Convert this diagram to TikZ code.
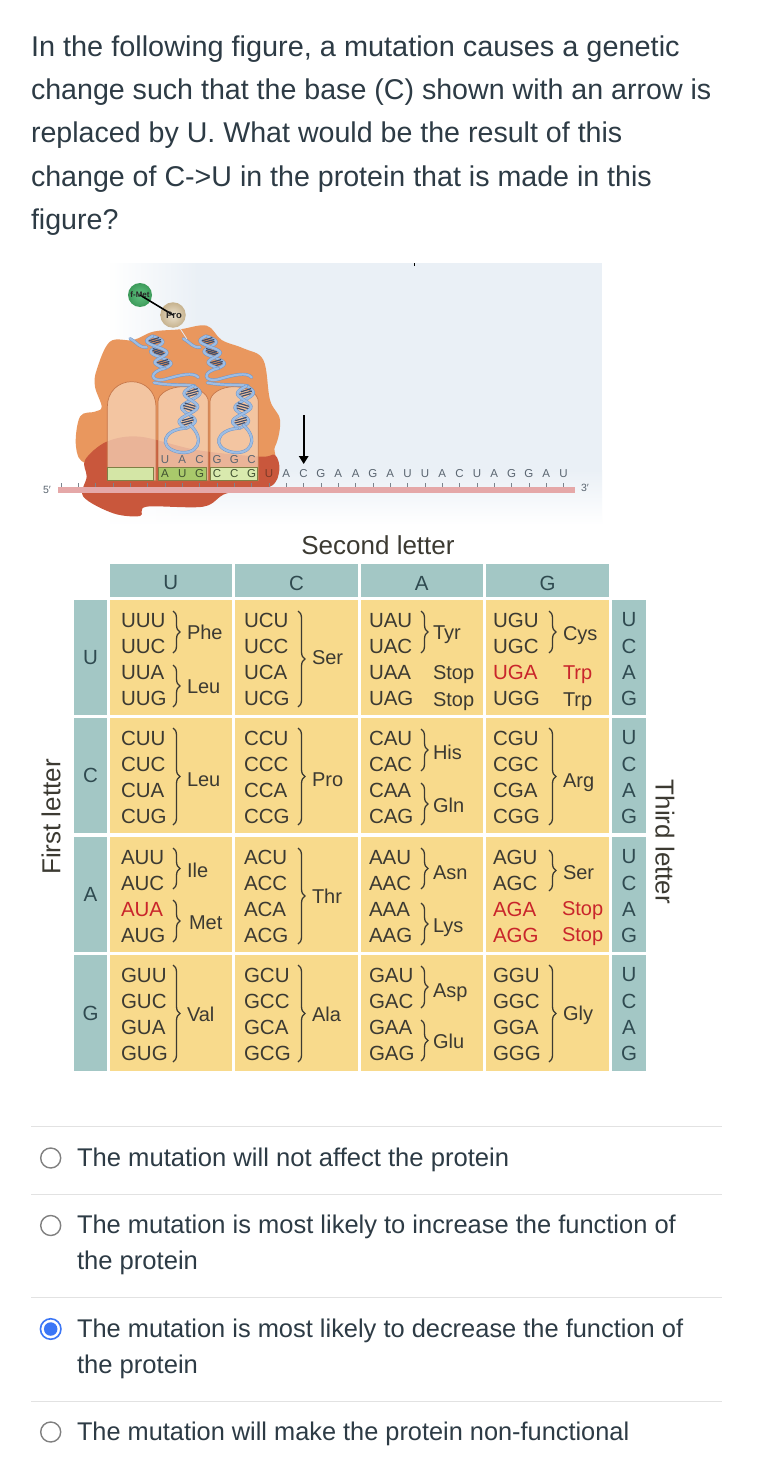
\documentclass[tikz,border=0pt]{standalone}
\usepackage{fontspec}
\setmainfont{Liberation Sans}
\usetikzlibrary{decorations.pathreplacing,fadings,arrows.meta,shadings}
\definecolor{ink}{HTML}{2D3B45}
\definecolor{tealcell}{HTML}{A3C7C5}
\definecolor{yellowcell}{HTML}{F8DA8C}
\definecolor{tabletext}{HTML}{3C3A32}
\definecolor{tablered}{HTML}{C9252B}
\definecolor{headtext}{HTML}{2F4A50}
\definecolor{skyblue}{HTML}{EAF0F6}
\definecolor{orangebig}{HTML}{E9975E}
\definecolor{redsmall}{HTML}{C9573C}
\definecolor{sitefill}{HTML}{F8D8BC}
\definecolor{siteedge}{HTML}{C5774A}
\definecolor{rnapink}{HTML}{E5A8A8}
\definecolor{rnatext}{HTML}{5A6570}
\definecolor{rnadark}{HTML}{3F5030}
\definecolor{rnabrown}{HTML}{7A3A28}
\definecolor{ribbon}{HTML}{9DBDE4}
\definecolor{ribbonedge}{HTML}{6E94C8}
\definecolor{rung}{HTML}{3E4E6E}
\definecolor{divider}{HTML}{E2E2E2}
\definecolor{radioblue}{HTML}{3B76F6}
\definecolor{boxa}{HTML}{D4E6A6}
\definecolor{boxb}{HTML}{A9C96B}
\definecolor{boxc}{HTML}{D9EAAE}
\definecolor{boxedge}{HTML}{7F7F45}
\definecolor{proinner}{HTML}{EDE3CF}
\definecolor{proouter}{HTML}{C6B28E}
\definecolor{metinner}{HTML}{62C482}
\definecolor{metouter}{HTML}{3C9A5A}
\newcommand\qfont{\fontsize{28.6}{34}\selectfont}
\newcommand\ofont{\fontsize{25.6}{30}\selectfont}
\newcommand\tfont{\fontsize{20.5}{24}\selectfont}
\newcommand\lfont{\fontsize{20}{24}\selectfont}
\newcommand\axisfont{\fontsize{26}{30}\selectfont}
\newcommand\cbrace[3]{\draw[codonbrace] (#1,#2) -- (#1,#3);}
\newcommand\dhelix[5]{%
  \draw[ribbonline] plot[variable=\t,domain=0:1,samples=30,smooth] ({#1+(#3-#1)*\t+#5*sin(540*\t)},{#2+(#4-#2)*\t});
  \foreach \t in {0.1,0.16,0.22,0.44,0.5,0.56,0.78,0.84,0.9}{
    \draw[rungline] ({#1+(#3-#1)*\t+0.8*#5*sin(540*\t)},{#2+(#4-#2)*\t-5}) -- ({#1+(#3-#1)*\t-0.8*#5*sin(540*\t)},{#2+(#4-#2)*\t+5});
  }
  \draw[ribbonline] plot[variable=\t,domain=0:1,samples=30,smooth] ({#1+(#3-#1)*\t-#5*sin(540*\t)},{#2+(#4-#2)*\t});}
\newcommand\trnashape{%
  \draw[ribbonline] (300,236) .. controls (325,250) and (325,262) .. (350,262);
  \dhelix{368}{228}{405}{325}{24}
  \draw[ribbonline] (405,325) .. controls (355,335) and (360,368) .. (405,358) .. controls (450,345) and (490,335) .. (505,352);
  \draw[ribbonline] (372,368) .. controls (420,378) and (470,372) .. (495,378);
  \dhelix{490}{378}{468}{505}{24}
  \draw[ribbonline] (462,505) .. controls (400,510) and (385,560) .. (440,575) .. controls (500,590) and (530,540) .. (480,495);}
\tikzset{
  every node/.style={inner sep=0pt,outer sep=0pt},
  qline/.style={anchor=base west,text=ink,font=\qfont},
  oline/.style={anchor=base west,text=ink,font=\ofont},
  codon/.style={anchor=base west,font=\tfont},
  amino/.style={anchor=base west,font=\lfont,text=tabletext},
  headcell/.style={fill=tealcell},
  bodycell/.style={fill=yellowcell},
  letter/.style={font=\tfont,text=headtext},
  axislabel/.style={font=\axisfont,text=tabletext},
  codonbrace/.style={decorate,decoration={brace,amplitude=7pt,aspect=0.5},draw=tabletext,line width=1.3pt},
  ribbonline/.style={draw=ribbonedge,double=ribbon,double distance=2.2pt,line width=.45pt,line cap=round},
  rungline/.style={draw=rung,line width=1.2pt},
  rnaletter/.style={font=\fontsize{11.5}{12}\selectfont,text=rnatext},
  tickline/.style={draw=rnatext!80,line width=.5pt},
  siteshape/.style={fill=sitefill,fill opacity=.72,draw=siteedge,line width=.7pt},
  codebox/.style={fill=#1,draw=boxedge,line width=.8pt},
  radio/.style={circle,draw=#1,minimum size=20pt,line width=1.4pt,fill=white},
  radio/.default={black!50},
  metnode/.style={circle,inner color=metinner,outer color=metouter,minimum size=24pt},
  pronode/.style={circle,inner color=proinner,outer color=proouter,minimum size=25.5pt},
  balltext/.style={text=black!85},
}
\begin{document}
\begin{tikzpicture}[x=1pt,y=-1pt]
\useasboundingbox (0,0) rectangle (770,1482);
\fill[white] (0,0) rectangle (770,1482);
% question
\node[qline,xscale=1.01] (q1) at (31,57) {In the following figure, a mutation causes a genetic};
\node[qline] (q2) at (31,100) {change such that the base (C) shown with an arrow is};
\node[qline] (q3) at (31,143) {replaced by U. What would be the result of this};
\node[qline] (q4) at (31,186) {change of C->U in the protein that is made in this};
\node[qline] (q5) at (31,229) {figure?};
% background of the illustration
\fill[skyblue] (110,263) rectangle (602,470);
\shade[top color=skyblue,bottom color=white] (110,470) rectangle (602,525);
\fill[white,path fading=east] (110,263) rectangle (200,526);
\fill[black] (413.5,263) rectangle (415,266);
\begin{scope}[shift={(30,260)},scale=0.33333]
  % large subunit
  \fill[orangebig] plot[smooth cycle,tension=.6] coordinates {(200,330) (240,245) (310,240) (370,215) (450,208) (530,197) (575,240) (640,265) (700,300) (720,420) (750,480) (735,560) (690,600) (300,600) (170,610) (138,560) (150,470) (195,455) (215,440) (195,380)};
  % small subunit
  \fill[redsmall] plot[smooth cycle,tension=.55] coordinates {(165,600) (230,545) (330,530) (500,570) (690,590) (735,585) (748,630) (720,680) (590,700) (520,740) (350,740) (330,768) (250,760) (160,710) (170,650)};
  % sites
  \path[siteshape] (232,662) -- (232,440) .. controls (232,395) and (265,365) .. (305,365) .. controls (345,365) and (378,395) .. (378,440) -- (378,662) -- cycle;
  \path[siteshape] (384,662) -- (384,425) .. controls (384,400) and (420,380) .. (460,380) .. controls (500,380) and (535,400) .. (535,425) -- (535,662) -- cycle;
  \path[siteshape] (540,662) -- (540,425) .. controls (540,400) and (575,380) .. (612,380) .. controls (650,380) and (685,400) .. (685,425) -- (685,662) -- cycle;
  \trnashape
  \begin{scope}[shift={(160,0)}]\trnashape\end{scope}
  % codon boxes
  \path[codebox=boxa] (232,622) rectangle (370,660);
  \path[codebox=boxb] (384,622) rectangle (530,660);
  \path[codebox=boxc] (540,622) rectangle (682,660);
  % thread to the peptide
  \draw[white!70!ribbon,line width=.8pt] (450,205) -- (470,236);
\end{scope}
% amino acids
\node[metnode] (fmet) at (140,295) {};
\node[pronode] (pro) at (173,315) {};
\draw[black,line width=1.6pt] (fmet.center) -- (pro.center);
\node[balltext,font=\fontsize{8}{9}\selectfont\bfseries] (fmetlabel) at (140,295) {f-Met};
\node[balltext,font=\fontsize{9.5}{10}\selectfont\bfseries] (prolabel) at (174,315) {Pro};
% mRNA
\fill[rnapink] (58,486.5) rectangle (575,493);
\foreach \n in {0,...,29}{\draw[tickline] ({61+17.33*\n},483) -- ({61+17.33*\n},487);}
\foreach \s [count=\i from 6] in {A,U,G,C,C,G,U,A,C,G,A,A,G,A,U,U,A,C,U,A,G,G,A,U}{
  \def\rc{rnatext}
  \ifnum\i<12 \def\rc{rnadark}\fi
  \ifnum\i=12 \def\rc{rnabrown}\fi
  \node[rnaletter,text=\rc] (m\i) at ({61+17.33*\i},474) {\s};}
\foreach \s [count=\i from 6] in {U,A,C,G,G,C}{
  \node[rnaletter] (t\i) at ({61+17.33*\i},460) {\s};}
\node[font=\fontsize{10.5}{12}\selectfont,text=rnatext] (fiveprime) at (47,490) {5′};
\node[font=\fontsize{10.5}{12}\selectfont,text=rnatext] (threeprime) at (585,488) {3′};
\coordinate (arrowtop) at (303.7,415);
\coordinate (arrowend) at (303.7,464);
\draw[black,line width=1.6pt,-{Triangle[width=9.5pt,length=8pt]}] (arrowtop) -- (arrowend);
% table
\node[axislabel] (second) at (378,545) {Second letter};
\node[axislabel,rotate=90] (first) at (51,817) {First letter};
\node[axislabel,rotate=-90] (third) at (665,842) {Third letter};
\foreach \nm/\xa/\xb in {U/109.5/232,C/235/358,A/360.5/483,G/486/609}{
  \fill[headcell] (\xa,564) rectangle (\xb,597);
  \node[letter] (h\nm) at ({(\xa+\xb)/2},583) {\nm};
  \foreach \ya/\yb in {600/715,718/833,837/952,955/1071}{\fill[bodycell] (\xa,\ya) rectangle (\xb,\yb);}
}
\expandafter\def\csname rUGA\endcsname{}
\expandafter\def\csname rAUA\endcsname{}
\expandafter\def\csname rAGA\endcsname{}
\expandafter\def\csname rAGG\endcsname{}
\foreach \r/\ya/\yb in {U/600/715,C/718/833,A/837/952,G/955/1071}{
  \fill[headcell] (74,\ya) rectangle (107,\yb);
  \fill[headcell] (612,\ya) rectangle (646,\yb);
  \node[letter] (first\r) at (90.5,{(\ya+\yb)/2}) {\r};
  \foreach \third [count=\k from 0] in {U,C,A,G}{
    \node[letter] (third\r\third) at (629,{\ya+20+26.1*\k}) {\third};
    \foreach \c/\cx in {U/121,C/244,A/369,G/493}{
      \edef\cod{\r\c\third}
      \def\codcol{tabletext}
      \ifcsname r\cod\endcsname\def\codcol{tablered}\fi
      \node[codon,text=\codcol] (c\cod) at (\cx,{\ya+27.3+26.1*\k}) {\cod};
    }
  }
}
% braces
\cbrace{173}{611}{653}\cbrace{173}{665}{707}
\cbrace{298}{611}{707}
\cbrace{421}{611}{653}
\cbrace{549}{611}{653}
\cbrace{173}{728}{825}\cbrace{298}{728}{825}
\cbrace{421}{729}{771}\cbrace{421}{783}{825}
\cbrace{549}{728}{825}
\cbrace{173}{848}{889}\cbrace{173}{900}{942}
\cbrace{298}{848}{944}
\cbrace{421}{848}{889}\cbrace{421}{903}{945}
\cbrace{549}{850}{891}
\cbrace{173}{965}{1062}\cbrace{298}{965}{1062}
\cbrace{421}{966}{1008}\cbrace{421}{1020}{1061}
\cbrace{549}{965}{1062}
% amino-acid labels
\foreach \id/\t/\xx/\yy in {
 a1/Phe/187/632,a2/Leu/187/686,a3/Ser/312/657,a4/Tyr/433/632,a5/Stop/433/672,a6/Stop/433/699,
 a7/Cys/563/633,a9/Trp/563/699,
 a10/Leu/187/779,a11/Pro/312/779,a12/His/433/752,a13/Gln/433/805,a14/Arg/563/780,
 a15/Ile/187/870,a16/Met/189/922,a17/Thr/312/896,a18/Asn/433/872,a19/Lys/433/925,a20/Ser/563/872,
 a21/Val/187/1014,a22/Ala/312/1014,a23/Asp/433/990,a24/Glu/433/1041,a25/Gly/563/1013}{
  \node[amino] (\id) at (\xx,\yy+7) {\t};}
\node[amino,text=tablered] (a8) at (563,679) {Trp};
\node[amino,text=tablered] (a26) at (562,915) {Stop};
\node[amino,text=tablered] (a27) at (562,941) {Stop};
% answers
\foreach \id/\yy in {d1/1126.5,d2/1194,d3/1297.5,d4/1401}{
  \coordinate (\id l) at (31,\yy); \coordinate (\id r) at (722,\yy);
  \draw[divider,line width=1pt] (\id l) -- (\id r);}
\node[radio] (r1) at (50.7,1158) {};
\node[radio] (r2) at (50.7,1225.5) {};
\node[radio=radioblue,minimum size=20.5pt,line width=1.6pt] (r3) at (50.7,1329) {};
\node[circle,fill=radioblue,minimum size=13.5pt] (r3dot) at (r3.center) {};
\node[radio] (r4) at (50.7,1432) {};
\node[oline] (o1) at (77,1166) {The mutation will not affect the protein};
\node[oline,xscale=.995] (o2a) at (77,1233) {The mutation is most likely to increase the function of};
\node[oline] (o2b) at (77,1269) {the protein};
\node[oline,xscale=.993] (o3a) at (77,1337) {The mutation is most likely to decrease the function of};
\node[oline] (o3b) at (77,1373) {the protein};
\node[oline,xscale=.99] (o4) at (77,1440) {The mutation will make the protein non-functional};
\end{tikzpicture}
\end{document}
